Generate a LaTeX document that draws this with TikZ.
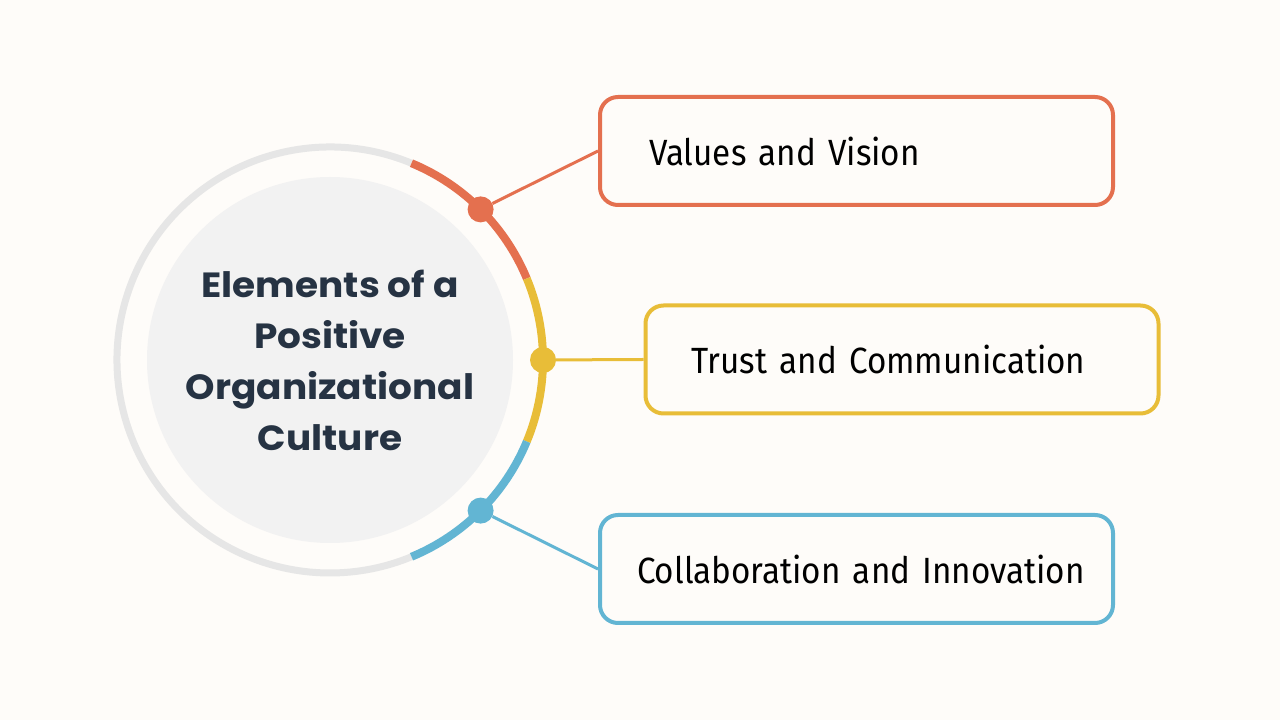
\documentclass[tikz,border=0pt]{standalone}
\usepackage{fontspec}
\setmainfont{Fira Sans}[FakeStretch=0.91]
\newfontfamily\titlefont{Poppins}[FakeStretch=1.07]
\usepackage{tikz}
\usetikzlibrary{positioning,calc}
\definecolor{paper}{HTML}{FEFCF9}
\definecolor{ringgray}{HTML}{E6E6E6}
\definecolor{hubgray}{HTML}{F2F2F2}
\definecolor{navy}{HTML}{263343}
\definecolor{coral}{HTML}{E4704F}
\definecolor{mustard}{HTML}{E8BD38}
\definecolor{sky}{HTML}{62B5D3}
\begin{document}
\begin{tikzpicture}[x=1pt,y=1pt,node distance=418pt,on grid,
        box/.style = {draw,line width=4pt,rounded corners=18pt,fill=paper,minimum height=108pt,align=left,font=\fontsize{36.5}{40}\selectfont},
        link/.style = {line width=3pt},
        dot/.style = {circle,fill,inner sep=0pt,minimum size=26pt}]
        \fill[paper] (0,0) rectangle (1280,720);
        \useasboundingbox (0,0) rectangle (1280,720);

        % hub
        \fill[hubgray] (330,360) circle (183);
        \draw[ringgray,line width=7pt] (330,360) ++(67.5:213) arc (67.5:292.5:213);
        \draw[coral,line width=8pt] (330,360) ++(67.5:213) arc (67.5:22.5:213);
        \draw[mustard,line width=8pt] (330,360) ++(22.5:213) arc (22.5:-22.5:213);
        \draw[sky,line width=8pt] (330,360) ++(-22.5:213) arc (-22.5:-67.5:213);
        \node[align=center,text=navy,font=\titlefont\bfseries\fontsize{35}{51}\selectfont] (hub) at (330,360) {Elements of a\\Positive\\Organizational\\Culture};

        % boxes
        \node[box,draw=coral,inner xsep=49pt,text width=415pt] (values) at (856.5,569) {\mbox{Values and Vision}};
        \node[box,draw=mustard,inner xsep=46pt,text width=421pt] (trust) at (902,360.5) {\mbox{Trust and Communication}};
        \node[box,draw=sky,inner xsep=37pt,text width=439pt] (collab) [below of=values] {\mbox{Collaboration and Innovation}};

        % dots
        \node[dot,coral] (d1) at ($(330,360)+(45:213)$) {};
        \node[dot,mustard] (d2) at (543,360) {};
        \node[dot,sky] (d3) at ($(330,360)+(-45:213)$) {};

        \draw[link,coral] (d1) -- (values.west);
        \draw[link,mustard] (d2) -- (trust.west);
        \draw[link,sky] (d3) -- (collab.west);
\end{tikzpicture}
\end{document}
